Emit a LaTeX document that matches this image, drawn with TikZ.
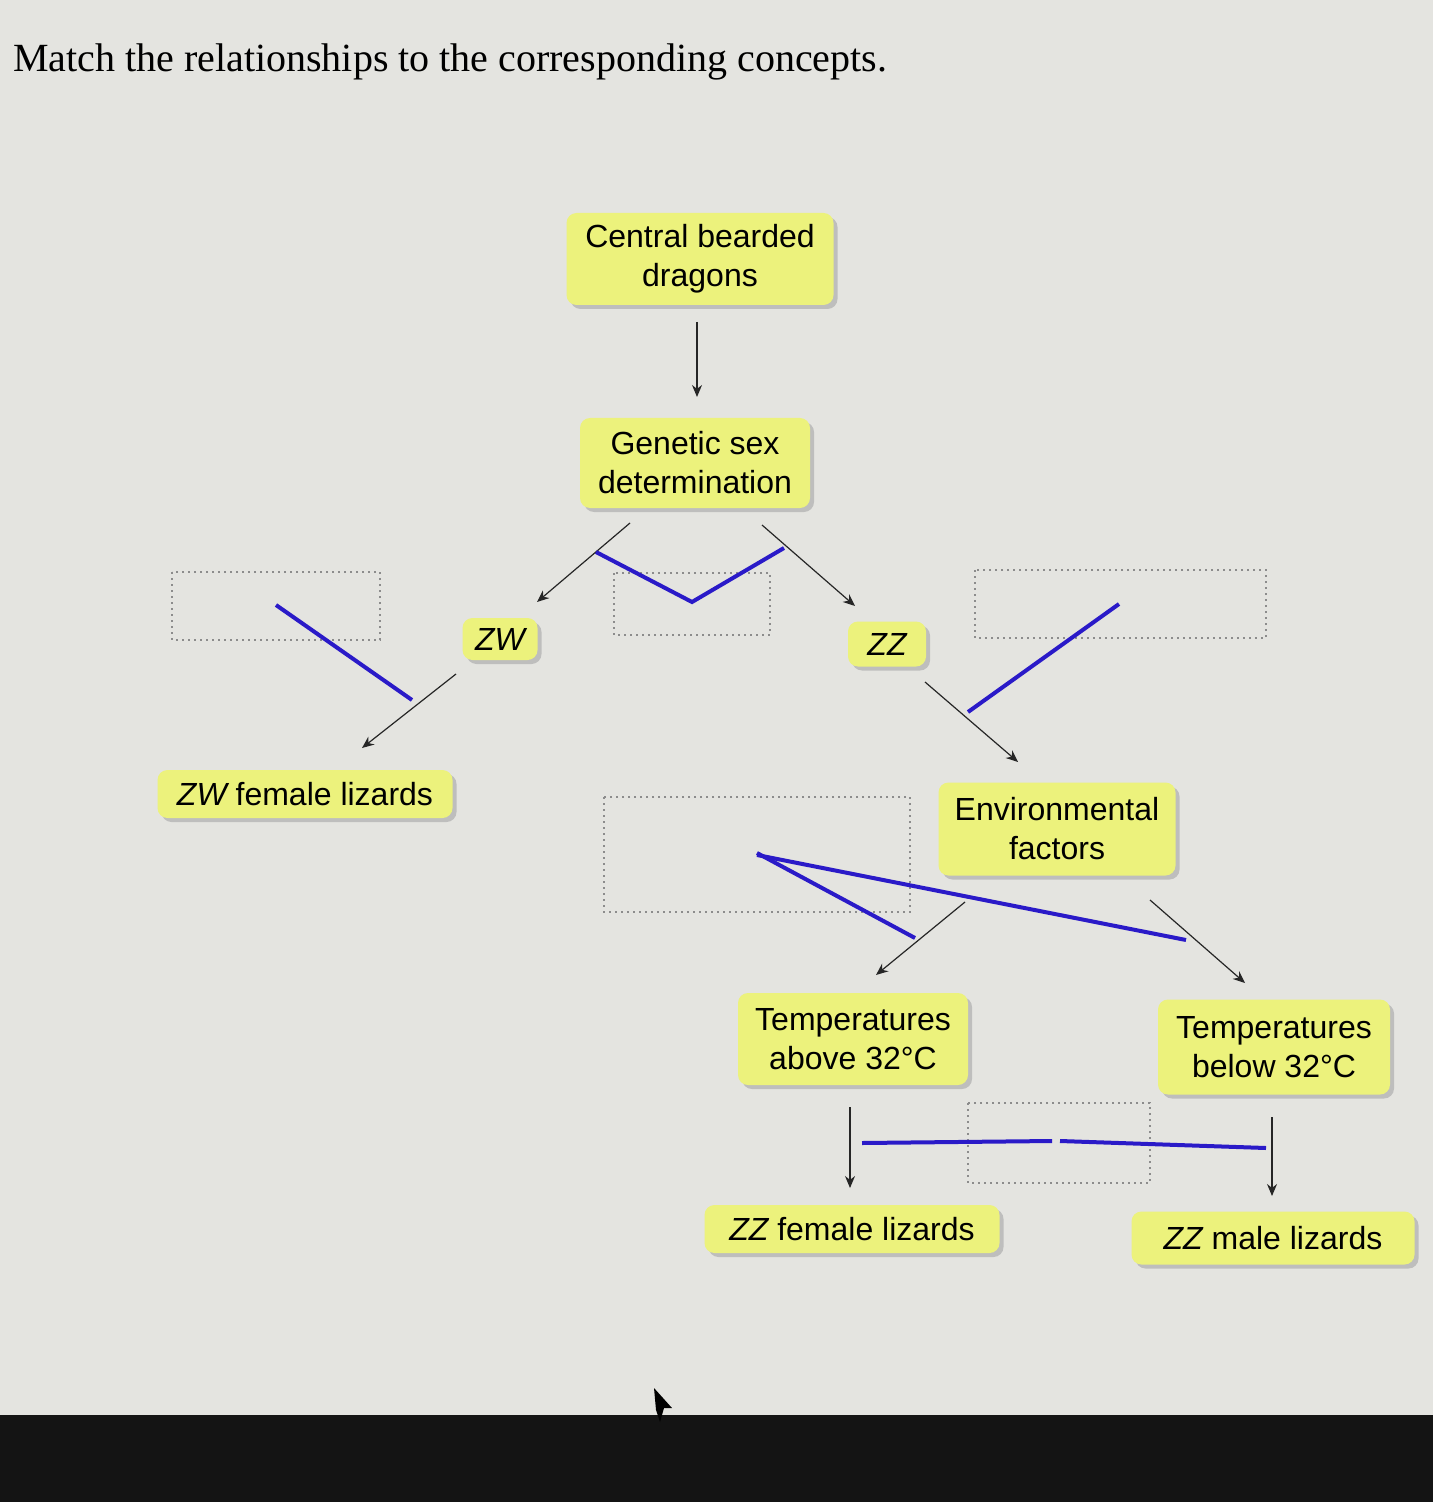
\documentclass[tikz,border=0pt]{standalone}
\usepackage{fontspec}
\setmainfont{Liberation Sans}
\newfontfamily\titlefont{Liberation Serif}
\usetikzlibrary{shadows,arrows.meta}
\definecolor{bgc}{HTML}{E4E4E0}
\definecolor{yel}{HTML}{ECF27C}
\definecolor{blu}{HTML}{2A1AC8}
\begin{document}
\begin{tikzpicture}[x=0.5pt,y=-0.5pt,
  concept/.style={fill=yel,rounded corners=5pt,inner sep=0pt,align=center,font=\fontsize{16}{19.5}\selectfont,drop shadow={shadow xshift=2pt,shadow yshift=-2pt,fill=black!35,opacity=0.6}},
  slot/.style={draw=black!45,dotted,line width=1pt},
  arr/.style={-{Stealth[length=6pt,width=5pt]},line width=0.6pt,black!85},
  bl/.style={blu,line width=2pt}]
\fill[bgc] (0,0) rectangle (1433,1502);
\fill[black!92] (0,1415) rectangle (1433,1502);
\node[anchor=west,font=\titlefont\fontsize{20}{24}\selectfont] (title) at (6,62) {Match the relationships to the corresponding concepts.};
% concept nodes
\node[concept,minimum width=133.5pt,minimum height=46pt] (central) at (700,259) {Central bearded\\dragons};
\node[concept,minimum width=115pt,minimum height=45pt] (genetic) at (695,463) {Genetic sex\\determination};
\node[concept,minimum width=37.5pt,minimum height=21pt] (zw) at (500,639) {\itshape ZW};
\node[concept,minimum width=39pt,minimum height=22.5pt] (zz) at (887,644) {\itshape ZZ};
\node[concept,minimum width=147.5pt,minimum height=24pt] (zwf) at (305,794) {\itshape ZW\upshape\ female lizards};
\node[concept,minimum width=118.5pt,minimum height=46.5pt] (env) at (1057,829) {Environmental\\factors};
\node[concept,minimum width=115pt,minimum height=46pt] (tabove) at (853,1039) {Temperatures\\above 32\textdegree C};
\node[concept,minimum width=116pt,minimum height=47.5pt] (tbelow) at (1274,1047) {Temperatures\\below 32\textdegree C};
\node[concept,minimum width=147.5pt,minimum height=24pt] (zzf) at (852,1229) {\itshape ZZ\upshape\ female lizards};
\node[concept,minimum width=141.5pt,minimum height=26.5pt] (zzm) at (1273,1238) {\itshape ZZ\upshape\ male lizards};
% slots
\draw[slot] (172,572) rectangle (380,640);
\draw[slot] (614,573) rectangle (770,635);
\draw[slot] (975,570) rectangle (1266,638);
\draw[slot] (604,797) rectangle (910,912);
\draw[slot] (968,1103) rectangle (1150,1183);
% arrows
\coordinate (a1) at (697,322); \coordinate (b1) at (697,397);
\coordinate (a2) at (630,523); \coordinate (b2) at (537,602);
\coordinate (a3) at (762,525); \coordinate (b3) at (855,606);
\coordinate (a4) at (456,674); \coordinate (b4) at (362,748);
\coordinate (a5) at (925,682); \coordinate (b5) at (1018,762);
\coordinate (a6) at (965,902); \coordinate (b6) at (876,975);
\coordinate (a7) at (1150,900); \coordinate (b7) at (1245,983);
\coordinate (a8) at (850,1107); \coordinate (b8) at (850,1188);
\coordinate (a9) at (1272,1117); \coordinate (b9) at (1272,1196);
\foreach \i in {1,...,9} \draw[arr] (a\i) -- (b\i);
% blue lines
\draw[bl] (596,552) -- (692,602) -- (784,548);
\draw[bl] (276,605) -- (412,700);
\draw[bl] (1119,604) -- (968,712);
\draw[bl] (757,853) -- (915,938);
\draw[bl] (757,855) -- (1186,940);
\draw[bl] (862,1143) -- (1052,1141);
\draw[bl] (1060,1141) -- (1266,1148);
% cursor
\fill[black] (654,1388) -- (672,1408) -- (664,1408) -- (660,1422) -- (656,1410) -- cycle;
\end{tikzpicture}
\end{document}
